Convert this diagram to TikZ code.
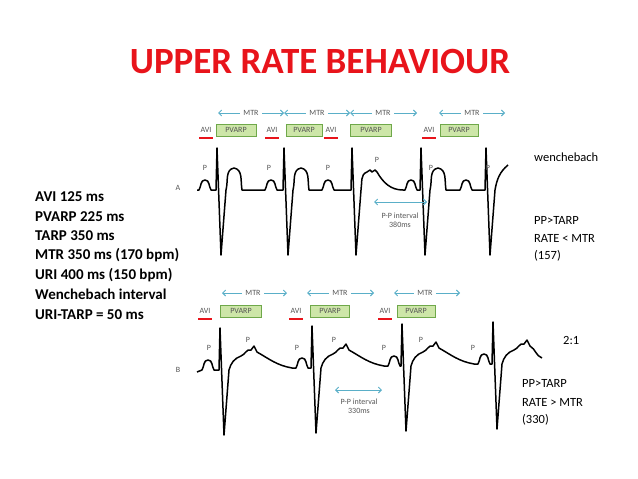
\documentclass[tikz,border=0pt]{standalone}
\usepackage{fontspec}
\setmainfont{Carlito}
\usetikzlibrary{arrows.meta}
\definecolor{ttl}{HTML}{E8141B}
\definecolor{arr}{HTML}{5AAFC8}
\definecolor{bfill}{HTML}{CDE6A8}
\definecolor{bdraw}{HTML}{6FA84A}
\definecolor{lbl}{HTML}{555555}
\tikzset{
  ecg/.style={line width=1.5pt,line join=round},
  mtr/.style={arr,line width=0.9pt,{Straight Barb[length=3pt]}-{Straight Barb[length=3pt]}},
  pv/.style={draw=bdraw,fill=bfill,line width=0.6pt,minimum width=#1,minimum height=12pt,inner sep=0pt,font=\fontsize{8}{9}\selectfont\color{lbl}},
  avi/.style={font=\fontsize{8}{9}\selectfont\color{lbl},inner sep=0pt},
  lab/.style={font=\fontsize{8}{9}\selectfont\color{lbl},inner sep=0pt},
  redline/.style={draw=ttl,line width=1.6pt},
  side/.style={font=\fontsize{12.5}{14}\selectfont,anchor=west,inner sep=0pt},
  left/.style={font=\fontsize{15}{18}\selectfont\bfseries,anchor=west,inner sep=0pt}
}
\def\pw{to[out=60,in=180] ++(6,-10) to[out=0,in=120] ++(6,10)}
\def\qrs{-- ++(1,-42) -- ++(4,107) -- ++(5,-65)}
\def\tw{to[out=75,in=190] ++(8,-22) to[out=-10,in=100] ++(8,22)}
\begin{document}
\begin{tikzpicture}[x=1pt,y=-1pt]
\useasboundingbox (0,0) rectangle (638,479);
\node[font=\fontsize{37}{40}\selectfont\bfseries,text=ttl] (title) at (320,62) {UPPER RATE BEHAVIOUR};
\foreach \t [count=\i] in {AVI 125 ms,PVARP 225 ms,TARP 350 ms,MTR 350 ms (170 bpm),URI 400 ms (150 bpm),Wenchebach interval,URI-TARP =  50 ms}
  \node[left] (L\i) at (35,177+19.6*\i) {\t};
\node[side] (r1) at (534,157) {wenchebach};
\node[side] (r2) at (534,220) {PP>TARP};
\node[side] (r3) at (534,238) {RATE < MTR};
\node[side] (r4) at (534,256) {(157)};
\node[side] (r5) at (563,340) {2:1};
\node[side] (r6) at (522,383) {PP>TARP};
\node[side] (r7) at (522,402) {RATE > MTR};
\node[side] (r8) at (522,420) {(330)};
% strip A
\node[lab] (A) at (178,188) {A};
\foreach \a/\b/\m in {218/284/251,284/350/317,350/417/383,439/505/472}{
  \coordinate (s\a) at (\a,113); \coordinate (e\b) at (\b,113);
  \draw[mtr] (s\a) -- (e\b);
  \node[avi,fill=white,inner xsep=3pt] (m\a) at (\m,113) {MTR};}
\foreach \x in {206,272,331,429}{
  \node[avi] (av\x) at (\x,130) {AVI};
  \coordinate (u\x) at (\x-7,138);
  \draw[redline] (u\x) -- ++(14,0);
}
\node[pv=40pt] (pa1) at (236,130) {PVARP};
\node[pv=36pt] (pa2) at (304,130) {PVARP};
\node[pv=41pt] (pa3) at (371,130) {PVARP};
\node[pv=38pt] (pa4) at (459,130) {PVARP};
\draw[ecg] (197,190) -- ++(2,0) \pw -- ++(5,0) \qrs \tw -- ++(23,0) \pw -- ++(6,0) \qrs \tw -- ++(13,0) \pw -- ++(17,0) \qrs
  to[out=80,in=200] ++(6,-18) -- ++(3,-2) -- ++(2,2) -- ++(3,-2) -- ++(2,2)
  to[out=-60,in=180] ++(26,18) -- ++(2,0) \pw -- ++(3,0) \qrs \tw -- ++(14,0) \pw -- ++(13,0) \qrs to[out=80,in=220] ++(13,-25);
\foreach \x/\y [count=\i] in {205/168,269/168,328/168,377/160,431/168,488/168}
  \node[lab] (pA\i) at (\x,\y) {P};
\coordinate (ppa1) at (374,202); \coordinate (ppa2) at (427,202);
\draw[mtr] (ppa1) -- (ppa2);
\node[lab,align=center] (ppat) at (400,220) {P-P interval\\380ms};
% strip B
\node[lab] (B) at (178,370) {B};
\foreach \a/\b/\m in {222/287/253,307/374/340,394/460/425}{
  \coordinate (t\a) at (\a,293); \coordinate (f\b) at (\b,293);
  \draw[mtr] (t\a) -- (f\b);
  \node[avi,fill=white,inner xsep=3pt] (n\a) at (\m,293) {MTR};}
\foreach \x in {205,296,385}{
  \node[avi] (bv\x) at (\x,311) {AVI};
  \coordinate (w\x) at (\x-7,319);
  \draw[redline] (w\x) -- ++(14,0);
}
\node[pv=41pt] (pb1) at (241,311) {PVARP};
\node[pv=39pt] (pb2) at (330,311) {PVARP};
\node[pv=38pt] (pb3) at (416,311) {PVARP};
\def\tpb{to[out=75,in=200] ++(12,-14) to[out=20,in=160] ++(10,-6) -- ++(3,-4) -- ++(3,6) to[out=-30,in=170] ++(35,16)}
\draw[ecg] (197,372) -- ++(5,-2) \pw -- ++(5,0) \qrs \tpb -- ++(4,0) \pw -- ++(3,0) \qrs \tpb -- ++(4,0) \pw -- ++(1,0) \qrs \tpb -- ++(4,0) \pw -- ++(2,0) \qrs
  to[out=75,in=200] ++(12,-14) to[out=20,in=160] ++(10,-6) -- ++(3,-4) -- ++(3,6) to[out=-30,in=160] ++(12,12);
\foreach \x/\y [count=\i] in {209/348,248/340,297/348,334/340,384/348,421/340,473/348}
  \node[lab] (pB\i) at (\x,\y) {P};
\coordinate (ppb1) at (335,390); \coordinate (ppb2) at (382,390);
\draw[mtr] (ppb1) -- (ppb2);
\node[lab,align=center] (ppbt) at (359,406) {P-P interval\\330ms};
\end{tikzpicture}
\end{document}
